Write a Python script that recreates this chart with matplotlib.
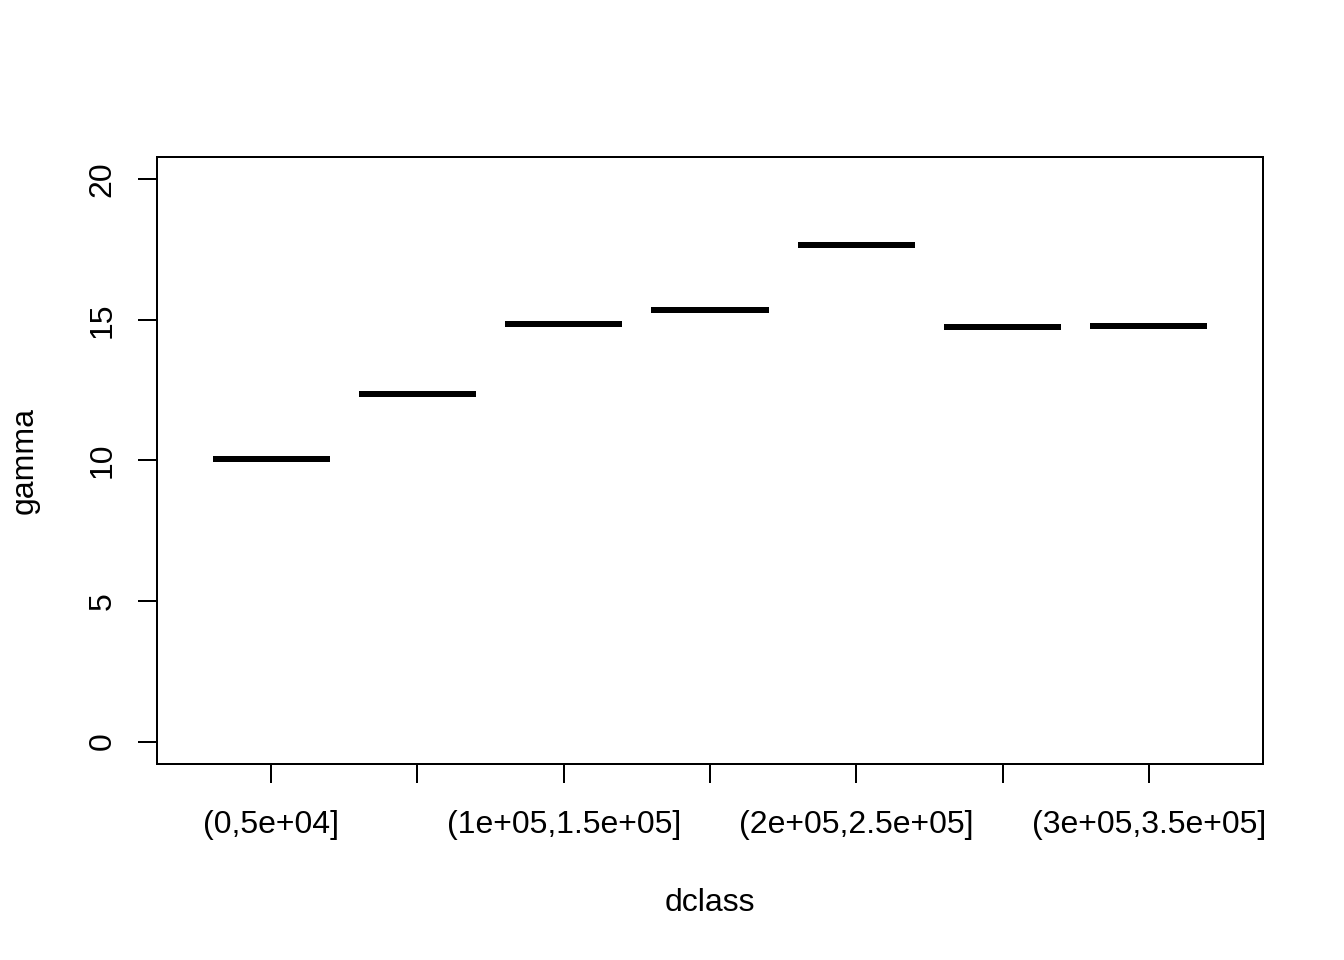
import numpy as np
import matplotlib.pyplot as plt

plt.rcParams['font.family'] = ['Liberation Sans', 'DejaVu Sans']

# Datos: clases de distancia y valor de gamma por clase
dclass = ['(0,5e+04]', '(5e+04,1e+05]', '(1e+05,1.5e+05]', '(1.5e+05,2e+05]',
          '(2e+05,2.5e+05]', '(2.5e+05,3e+05]', '(3e+05,3.5e+05]']
gamma = [10.07, 12.38, 14.87, 15.37, 17.68, 14.74, 14.80]

fig = plt.figure(figsize=(7, 5), dpi=192)
ax = fig.add_axes([157 / 1344, 1 - 764 / 960, (1263 - 157) / 1344, (764 - 157) / 960])

pos = np.arange(1, len(dclass) + 1)
for p, g in zip(pos, gamma):
    ax.plot([p - 0.4, p + 0.4], [g, g], color='black', lw=2.25, solid_capstyle='butt')

ax.set_xlim(0.5 - 0.28, len(dclass) + 0.5 + 0.28)
ax.set_ylim(-0.8, 20.8)

ax.set_xticks(pos)
ax.set_xticklabels([lab if i % 2 == 0 else '' for i, lab in enumerate(dclass)])
ax.set_yticks([0, 5, 10, 15, 20])
ax.set_yticklabels(['0', '5', '10', '15', '20'], rotation=90, va='center')

ax.tick_params(axis='both', labelsize=12, length=7.2, width=0.75)
ax.tick_params(axis='y', pad=7.5)
ax.tick_params(axis='x', pad=10)
for s in ax.spines.values():
    s.set_linewidth(0.75)

ax.set_xlabel('dclass', fontsize=12, labelpad=18)
ax.set_ylabel('gamma', fontsize=12, labelpad=18)

fig.savefig('out.png', dpi=192)
